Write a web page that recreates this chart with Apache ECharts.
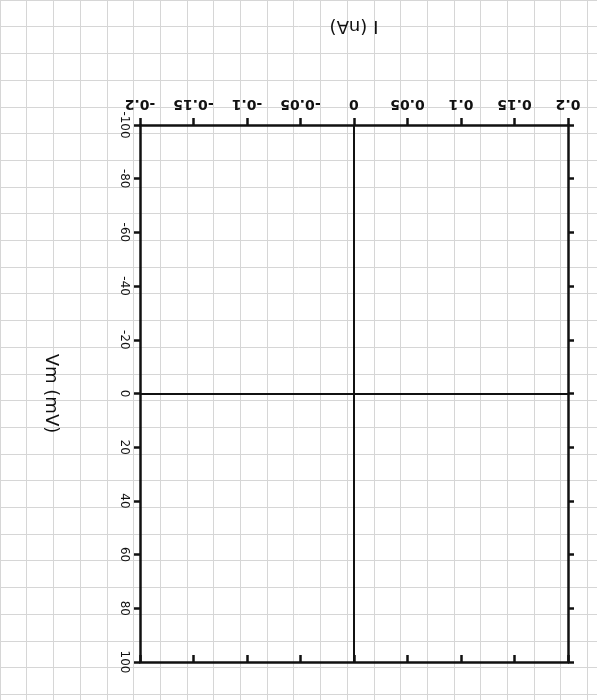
<!DOCTYPE html>
<html><head><meta charset="utf-8">
<script src="https://cdn.jsdelivr.net/npm/echarts@6/dist/echarts.min.js"></script>
<style>html,body{margin:0;padding:0;background:#fff}#c{width:597px;height:700px}</style>
</head><body><div id="c"></div>
<script>
const currentTicks = [-0.2,-0.15,-0.1,-0.05,0,0.05,0.1,0.15,0.2];
const voltageTicks = [-100,-80,-60,-40,-20,0,20,40,60,80,100];
const xName = 'I (nA)';
const yName = 'Vm (mV)';
const ink = '#111';
const font = 'DejaVu Sans';
const chart = echarts.init(document.getElementById('c'));
const paper = {min:0,max:700,interval:26.7,show:true,axisLine:{show:false},axisTick:{show:false},axisLabel:{show:false},splitLine:{show:true,lineStyle:{color:'#d6d6d6',width:1}}};
const line = {onZero:false,lineStyle:{color:ink,width:2.5}};
chart.setOption({
  backgroundColor:'#fff',
  animation:false,
  grid:[
    {left:0,right:0,top:0,bottom:0},
    {left:140,right:29,top:125,bottom:38}
  ],
  xAxis:[
    Object.assign({type:'value',gridIndex:0},paper,{max:597}),
    {type:'value',gridIndex:1,position:'top',min:currentTicks[0],max:currentTicks[currentTicks.length-1],interval:0.05,
     name:xName,nameLocation:'middle',nameGap:90,nameRotate:180,nameTextStyle:{fontSize:18,color:ink,fontFamily:font},
     axisLine:line,axisTick:{length:7,lineStyle:{color:ink,width:2.5}},
     axisLabel:{rotate:180,color:ink,fontSize:14,fontWeight:'bold',fontFamily:font,margin:14,formatter:v=>String(+v.toFixed(2))},splitLine:{show:false}},
    {type:'value',gridIndex:1,position:'bottom',min:-0.2,max:0.2,interval:0.05,
     axisLine:line,axisTick:{length:7,inside:true,lineStyle:{color:ink,width:2.5}},
     axisLabel:{show:false},splitLine:{show:false}}
  ],
  yAxis:[
    Object.assign({type:'value',gridIndex:0,inverse:true},paper),
    {type:'value',gridIndex:1,position:'left',inverse:true,min:voltageTicks[0],max:voltageTicks[voltageTicks.length-1],interval:20,
     name:yName,nameLocation:'middle',nameGap:80,nameRotate:-90,nameTextStyle:{fontSize:18,color:ink,fontFamily:font},
     axisLine:line,axisTick:{length:6,lineStyle:{color:ink,width:2.5}},
     axisLabel:{rotate:-90,color:ink,fontSize:12,fontFamily:font,margin:10},splitLine:{show:false}},
    {type:'value',gridIndex:1,position:'right',inverse:true,min:-100,max:100,interval:20,
     axisLine:line,axisTick:{length:6,lineStyle:{color:ink,width:2.5}},
     axisLabel:{show:false},splitLine:{show:false}}
  ],
  series:[{
    type:'line',xAxisIndex:1,yAxisIndex:1,data:[],
    markLine:{silent:true,symbol:'none',label:{show:false},lineStyle:{color:ink,width:2,type:'solid'},
      data:[{xAxis:0},{yAxis:0}]}
  }]
});
</script></body></html>
